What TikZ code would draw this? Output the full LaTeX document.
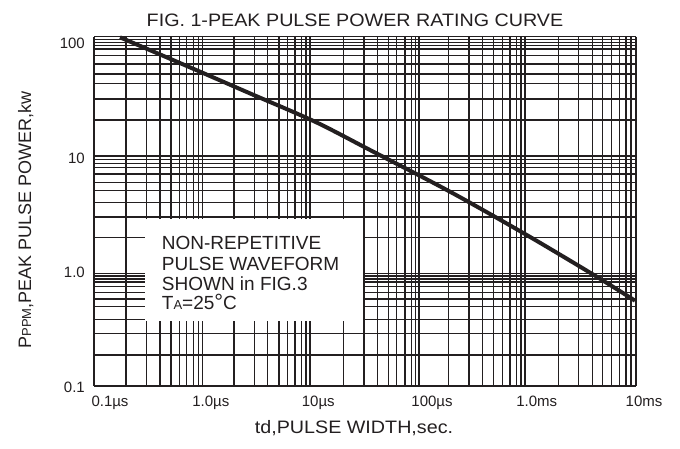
\documentclass[tikz,border=0pt]{standalone}
\usepackage{fontspec}
\setmainfont{Liberation Sans}
\usepackage{graphicx}
\definecolor{ink}{HTML}{231F20}
\tikzset{
  gridline/.style={draw=ink, line width=1.15pt},
  curveline/.style={draw=ink, line width=4pt},
  ticklab/.style={inner sep=0pt, text=ink, font=\fontsize{15}{15}\selectfont},
  boxtext/.style={inner sep=0pt, anchor=base west, text=ink, font=\fontsize{19}{20}\selectfont},
  titletext/.style={inner sep=0pt, anchor=base, text=ink, font=\fontsize{18}{18}\selectfont},
}
\begin{document}
\begin{tikzpicture}[x=1pt,y=-1pt]
\useasboundingbox[fill=white] (0,0) rectangle (680,449);
% vertical grid lines
\foreach \xx in {94,126,146.7,160,171,179.3,186.7,193.3,198.3,202.3,
                 234,254.3,267.7,279,287.7,295,301.7,306,310,
                 343.3,364,377.3,388.3,396.7,405,411.7,415.7,419,
                 448.3,469,482.3,493.3,502.3,510,516.7,521,525,
                 558.3,578.3,592.3,602.7,611.7,619.3,626,631,636}
  \draw[gridline] (\xx,36.7) -- (\xx,386);
% horizontal grid lines
\foreach \yy in {36.7,39.5,42.5,45.7,49,55.5,64,74,83.5,99,120,
                 156,159.5,163.3,167.5,174,182.5,190.5,202.5,217,237.5,
                 273.3,276,279,282,286.7,292.7,299,306.7,319.3,333.3,355,386}
  \draw[gridline] (94,\yy) -- (636,\yy);
% white legend box
\fill[white] (144.5,219) rectangle (363.3,320.5);
% curve
\draw[curveline] plot[smooth] coordinates {(120,37.3) (185,65.2) (250,93.4) (315,121.7) (370,150) (450,191.7) (526.7,235) (596.7,276.7) (635,300.7)};
% legend text
\node[boxtext] (l1) at (161.7,250) {NON-REPETITIVE};
\node[boxtext] (l2) at (161.7,270) {PULSE WAVEFORM};
\node[boxtext] (l3) at (161.7,290) {SHOWN in FIG.3};
\node[boxtext] (l4) at (161.7,309.3) {T{\fontsize{13}{13}\selectfont A}=25\smash{\fontsize{22}{22}\selectfont °}C};
% y tick labels
\node[ticklab, anchor=east] (y100) at (85,43.3) {100};
\node[ticklab, anchor=east] (y10) at (85,158.5) {10};
\node[ticklab, anchor=east] (y1) at (85,272) {1.0};
\node[ticklab, anchor=east] (y01) at (85,387.7) {0.1};
% x tick labels
\node[ticklab, anchor=base] (x1) at (110,406.7) {0.1µs};
\node[ticklab, anchor=base] (x2) at (210.8,406.7) {1.0µs};
\node[ticklab, anchor=base] (x3) at (318.3,406.7) {10µs};
\node[ticklab, anchor=base] (x4) at (432,406.7) {100µs};
\node[ticklab, anchor=base] (x5) at (536.7,406.7) {1.0ms};
\node[ticklab, anchor=base] (x6) at (644,406.7) {10ms};
% titles
\node[titletext] (title) at (355,26.7) {\scalebox{1.095}[1]{FIG. 1-PEAK PULSE POWER RATING CURVE}};
\node[titletext] (xtitle) at (354,433.3) {\scalebox{1.095}[1]{td,PULSE WIDTH,sec.}};
\node[titletext, rotate=90] (ytitle) at (31,220) {P{\fontsize{13}{13}\selectfont PPM},PEAK PULSE POWER,kw};
\end{tikzpicture}
\end{document}
